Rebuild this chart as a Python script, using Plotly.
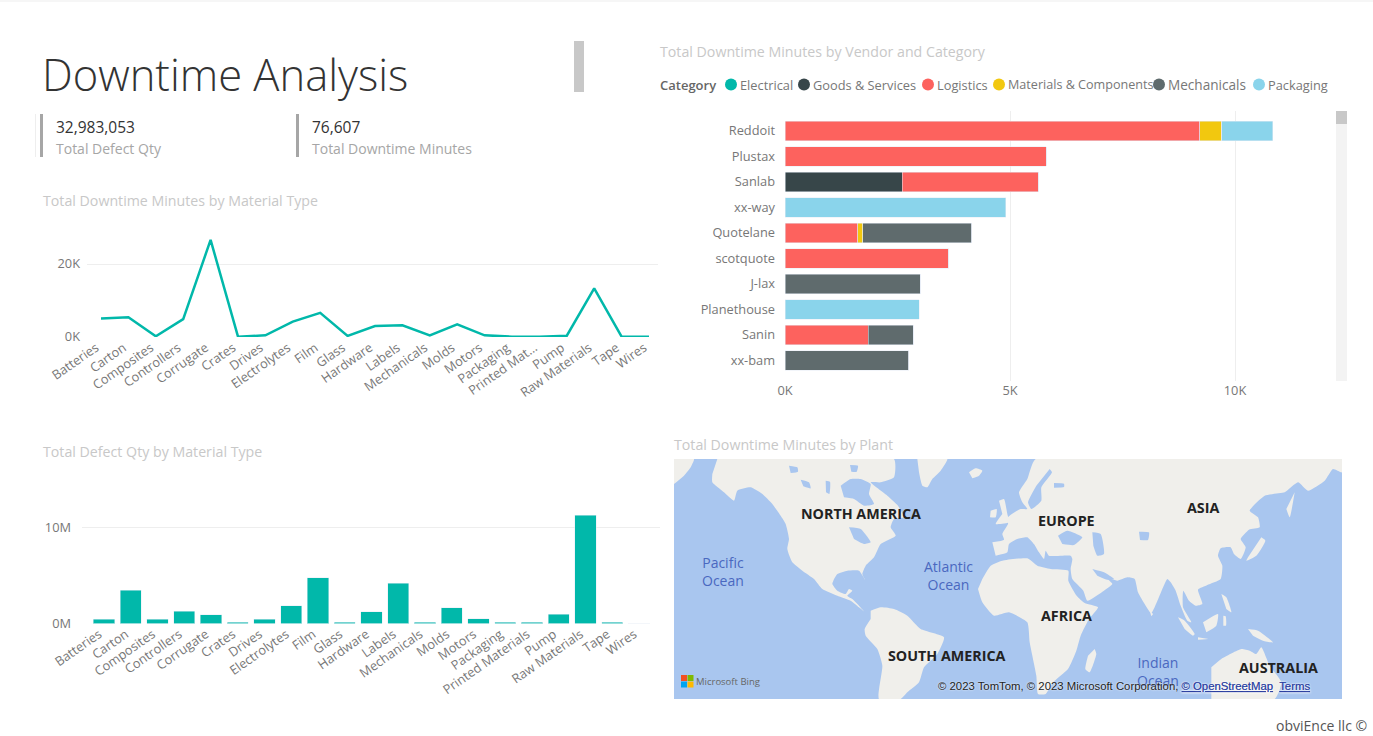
import plotly.graph_objects as go

W, H = 1373, 736
FONT = "Open Sans"

materials_line = ["Batteries","Carton","Composites","Controllers","Corrugate","Crates","Drives","Electrolytes","Film","Glass","Hardware","Labels","Mechanicals","Molds","Motors","Packaging","Printed Mat…","Pump","Raw Materials","Tape","Wires"]
materials_bar = ["Batteries","Carton","Composites","Controllers","Corrugate","Crates","Drives","Electrolytes","Film","Glass","Hardware","Labels","Mechanicals","Molds","Motors","Packaging","Printed Materials","Pump","Raw Materials","Tape","Wires"]
downtime_k = [5.1,5.4,0.2,4.9,26.6,0.1,0.45,4.2,6.6,0.3,3.0,3.2,0.45,3.5,0.45,0.1,0.1,0.35,13.3,0.1,0.1]
defect_m = [0.42,3.46,0.45,1.26,0.9,0.14,0.45,1.85,4.75,0.14,1.22,4.2,0.14,1.64,0.52,0.14,0.14,0.94,11.3,0.14,0.0]

vendors = ["Reddoit","Plustax","Sanlab","xx-way","Quotelane","scotquote","J-lax","Planethouse","Sanin","xx-bam"]
electrical = [0,0,0,0,0,0,0,0,0,0]
goods = [0,0,2.6,0,0,0,0,0,0,0]
logistics = [9.22,5.8,3.04,0,1.62,3.64,0,0,1.85,0]
mat_comp = [0.49,0,0,0,0.11,0,0,0,0,0]
mechanicals = [0,0,0,0,2.42,0,3.0,0,1.0,2.75]
packaging = [1.13,0,0,4.91,0,0,0,2.98,0,0]

# basemap outlines, in basemap picture units (2004 x 720)
chukotka = [(0,0),(60,0),(50,25),(30,50),(0,75)]
north_america = [(130,0),(660,0),(660,55),(620,70),(590,70),(640,110),(672,140),(690,175),(660,180),(650,205),(665,230),(620,255),(600,295),(575,320),(565,345),(573,362),(555,335),(520,335),(490,345),(478,365),(475,375),(490,395),(515,405),(525,390),(535,395),(520,410),(535,420),(555,440),(570,457),(555,445),(530,425),(490,410),(445,390),(420,360),(385,335),(355,310),(340,270),(345,240),(335,195),(320,170),(295,135),(265,105),(230,85),(190,95),(180,125),(150,100),(115,70),(115,45)]
greenland = [(730,0),(820,0),(800,35),(775,60),(760,85),(745,80),(735,40)]
iceland = [(885,40),(905,28),(925,35),(915,50),(895,58)]
uk = [(975,125),(990,120),(1000,165),(1005,190),(965,195),(985,165)]
ireland = [(950,155),(968,150),(965,175),(948,175)]
eurasia = [(955,250),(990,242),(985,225),(1002,195),(1002,175),(1040,150),(1060,150),(1045,130),(1035,100),(1060,60),(1085,0),(2004,0),(2004,40),(1977,30),(1952,65),(1902,95),(1872,70),(1832,100),(1772,110),(1727,155),(1752,175),(1757,205),(1725,212),(1700,240),(1715,265),(1700,300),(1680,285),(1670,265),(1640,268),(1632,290),(1645,320),(1640,360),(1600,378),(1572,392),(1585,435),(1565,440),(1545,425),(1528,395),(1527,445),(1552,490),(1540,485),(1520,440),(1505,395),(1490,370),(1480,360),(1432,462),(1415,440),(1392,400),(1382,360),(1360,355),(1330,365),(1295,355),(1315,375),(1290,395),(1240,425),(1228,395),(1195,360),(1190,330),(1195,300),(1190,290),(1125,290),(1115,275),(1110,300),(1095,280),(1075,245),(1100,280),(1060,235),(1030,240),(1005,255),(1000,280),(965,290)]
africa = [(925,360),(950,320),(985,305),(1060,298),(1090,320),(1130,330),(1183,335),(1183,365),(1208,410),(1232,432),(1272,445),(1245,480),(1220,530),(1207,575),(1182,630),(1137,670),(1115,705),(1092,705),(1087,650),(1067,550),(1060,490),(1005,460),(960,470),(925,430),(912,390)]
south_america = [(590,455),(620,445),(660,450),(700,470),(740,510),(810,535),(790,585),(750,625),(735,670),(700,700),(680,720),(615,720),(625,620),(610,570),(575,530),(572,510),(590,480)]
madagascar = [(1262,570),(1267,585),(1247,640),(1234,630),(1242,590)]
sri_lanka = [(1427,455),(1437,465),(1432,472)]
sumatra = [(1512,475),(1532,485),(1562,525),(1557,530),(1532,510)]
java = [(1572,535),(1602,540),(1572,542)]
borneo = [(1587,490),(1632,465),(1627,500),(1597,520)]
sulawesi = [(1648,470),(1655,472),(1656,500),(1648,500)]
new_guinea = [(1722,510),(1752,515),(1797,550),(1767,545),(1737,530)]
philippines = [(1642,405),(1657,415),(1672,460),(1657,450)]
australia = [(1612,625),(1642,600),(1702,570),(1727,575),(1747,585),(1762,565),(1787,620),(1822,670),(1802,720),(1612,720)]
sakhalin = [(1862,100),(1847,175),(1837,150)]
japan = [(1762,235),(1774,245),(1747,290),(1717,305),(1722,295)]
hudson_bay = [(500,80),(530,60),(560,60),(590,75),(585,105),(600,135),(570,140),(540,120),(510,115)]
great_lakes = [(525,205),(560,210),(590,250),(570,255),(540,240)]
canada_lakes_a = [(345,20),(370,25),(372,38),(350,42)]
canada_lakes_b = [(380,62),(405,70),(410,88),(388,82)]
canada_lakes_c = [(455,65),(468,68),(466,105),(456,100)]
foxe_basin = [(528,18),(552,20),(548,38),(532,38)]
baltic = [(1127,30),(1134,40),(1102,85),(1102,125),(1072,150),(1062,130),(1087,80)]
finland_gulf = [(1140,72),(1170,74),(1170,84),(1140,86)]
black_sea = [(1152,230),(1180,215),(1225,235),(1200,258),(1165,255)]
caspian = [(1255,220),(1280,225),(1290,285),(1270,290),(1258,260)]
aral = [(1395,218),(1425,220),(1422,243),(1398,243)]
persian_gulf = [(1255,330),(1290,340),(1320,360),(1300,362),(1270,350)]

land_parts = [chukotka, north_america, greenland, iceland, uk, ireland, eurasia, africa, south_america, madagascar, sri_lanka, sumatra, java, borneo, sulawesi, new_guinea, philippines, australia, sakhalin, japan]
water_parts = [hudson_bay, great_lakes, canada_lakes_a, canada_lakes_b, canada_lakes_c, foxe_basin, baltic, finland_gulf, black_sea, caspian, aral, persian_gulf]

TEAL, DARK, RED, YEL, SLATE, SKY = "#01B8AA", "#374649", "#FD625E", "#F2C80F", "#5F6B6D", "#8AD4EB"
TICK, GRID, TITLE = "#777777", "#eeeeee", "#c8c8c8"
LAND, SEA = "#F0EFEB", "#A9C6EF"

def dx(a, b): return [a / W, b / W]
def dy(top, bottom): return [1 - bottom / H, 1 - top / H]
def px(x): return x / W
def py(y): return 1 - y / H

fig = go.Figure()

fig.add_trace(go.Scatter(x=materials_line, y=downtime_k, mode="lines", line=dict(color=TEAL, width=2.5), xaxis="x", yaxis="y", cliponaxis=False, showlegend=False))
fig.add_trace(go.Bar(x=materials_bar, y=defect_m, marker=dict(color=TEAL), width=0.8, xaxis="x2", yaxis="y2", showlegend=False))
for name, vals, col in [("Electrical", electrical, TEAL), ("Goods & Services", goods, DARK), ("Logistics", logistics, RED), ("Materials & Components", mat_comp, YEL), ("Mechanicals", mechanicals, SLATE), ("Packaging", packaging, SKY)]:
    fig.add_trace(go.Bar(y=vendors, x=vals, name=name, orientation="h", marker=dict(color=col), width=0.78, xaxis="x3", yaxis="y3", showlegend=False))
for part, col in [(p, LAND) for p in land_parts] + [(p, SEA) for p in water_parts]:
    fig.add_trace(go.Scatter(x=[p[0] for p in part], y=[p[1] for p in part], fill="toself", fillcolor=col, mode="lines", line=dict(width=0, color=col, shape="spline", smoothing=0.5), hoverinfo="skip", xaxis="x4", yaxis="y4", cliponaxis=True, showlegend=False))

tickf = dict(family=FONT, size=12.8, color=TICK)
step1 = 27.4; start1 = 101
step2 = 26.75; start2 = 104
fig.update_layout(
    width=W, height=H, margin=dict(l=0, r=0, t=0, b=0, autoexpand=False), autosize=False,
    paper_bgcolor="white", plot_bgcolor="rgba(0,0,0,0)", barmode="stack", font=dict(family=FONT),
    xaxis=dict(domain=dx(87, 658), range=[(87 - start1) / step1, (658 - start1) / step1], type="category", tickangle=-35, tickfont=tickf, showgrid=False, ticks="", zeroline=False, showline=False, tickmode="array", tickvals=materials_line, ticktext=materials_line, automargin=False, anchor="y", ticklabelshift=-5),
    yaxis=dict(domain=dy(225, 337), range=[0, (337 - 225) / 73 * 20], tickvals=[0, 20], ticktext=["0K", "20K"], tickfont=tickf, gridcolor=GRID, zeroline=False, showline=False, automargin=False, anchor="x", ticklabelstandoff=6),
    xaxis2=dict(domain=dx(82, 660), range=[(82 - start2) / step2, (660 - start2) / step2], type="category", tickangle=-35, tickfont=tickf, showgrid=False, ticks="", zeroline=False, tickmode="array", tickvals=materials_bar, ticktext=materials_bar, automargin=False, anchor="y2", ticklabelshift=-5),
    yaxis2=dict(domain=dy(505.5, 623.5), range=[0, (623 - 505) / 9.6], tickvals=[0, 10], ticktext=["0M", "10M"], tickfont=tickf, gridcolor=GRID, zeroline=False, automargin=False, anchor="x2", ticklabelstandoff=10),
    xaxis3=dict(domain=dx(785, 1320), range=[0, 535 / 45], tickvals=[0, 5, 10], ticktext=["0K", "5K", "10K"], tickfont=tickf, gridcolor=GRID, zeroline=False, anchor="y3", automargin=False),
    yaxis3=dict(domain=dy(111, 381), range=[(381 - 131) / 25.5, (111 - 131) / 25.5], type="category", tickfont=tickf, showgrid=False, zeroline=False, anchor="x3", ticklabelstandoff=9, automargin=False),
    xaxis4=dict(domain=dx(674, 1342), range=[0, 2004], visible=False, anchor="y4", automargin=False),
    yaxis4=dict(domain=dy(459, 699), range=[720, 0], visible=False, anchor="x4", automargin=False),
)

shapes = []
def rect(x0, y0, x1, y1, color, layer="above"):
    shapes.append(dict(type="rect", xref="paper", yref="paper", x0=px(x0), x1=px(x1), y0=py(y0), y1=py(y1), fillcolor=color, line=dict(width=0), layer=layer))
rect(674, 459, 1342, 699, SEA, "below")
rect(0, 0, 1373, 2, "#f6f6f6")
rect(574, 41, 584, 92, "#c8c8c8")
rect(35, 114, 36, 157, "#eeeeee")
rect(40, 114, 43, 157, "#a6a6a6")
rect(296, 114, 299, 157, "#a6a6a6")
rect(1336, 111, 1347, 381, "#f3f3f3")
rect(1336, 111, 1347, 124, "#c8c8c8")
for x0, y0, c in [(681, 675, "#F25022"), (687.5, 675, "#7FBA00"), (681, 681.5, "#00A4EF"), (687.5, 681.5, "#FFB900")]:
    rect(x0, y0, x0 + 6, y0 + 6, c)
for cx, c in [(731, TEAL), (804, DARK), (928, RED), (999, YEL), (1159, SLATE), (1259, SKY)]:
    shapes.append(dict(type="circle", xref="paper", yref="paper", x0=px(cx - 6), x1=px(cx + 6), y0=py(90.5), y1=py(78.5), fillcolor=c, line=dict(width=0)))
fig.update_layout(shapes=shapes)

ann = []
def txt(x, y, s, size, color, anchor="left", family=FONT, weight=None, shadow=None):
    f = dict(family=family, size=size, color=color)
    if weight: f["weight"] = weight
    if shadow: f["shadow"] = shadow
    ann.append(dict(x=px(x), y=py(y), xref="paper", yref="paper", text=s, showarrow=False, xanchor=anchor, yanchor="middle", font=f, align="center" if anchor == "center" else "left", borderpad=0, borderwidth=0))

txt(42, 75, "Downtime Analysis", 43.5, "#333333", weight=300)
txt(56, 127, "32,983,053", 15.5, "#333333")
txt(56, 148, "Total Defect Qty", 14, "#a6a6a6")
txt(312, 127, "76,607", 15.5, "#333333")
txt(312, 148, "Total Downtime Minutes", 14, "#a6a6a6")
txt(43, 200, "Total Downtime Minutes by Material Type", 14.2, TITLE)
txt(43, 452, "Total Defect Qty by Material Type", 14.2, TITLE)
txt(660, 52, "Total Downtime Minutes by Vendor and Category", 14.2, TITLE)
txt(674, 444, "Total Downtime Minutes by Plant", 14.2, TITLE)
txt(660, 84.5, "Category", 13, "#666666", weight=600)
for x, s, size in [(740, "Electrical", 12.8), (813, "Goods &amp; Services", 12.8), (937, "Logistics", 12.8), (1008, "Materials &amp; Components", 12.6), (1168, "Mechanicals", 13.6), (1268, "Packaging", 12.8)]:
    txt(x, 84.5, s, size, TICK)
for x, y, s in [(861, 513, "NORTH AMERICA"), (1066, 520, "EUROPE"), (1203, 508, "ASIA"), (1066, 615, "AFRICA"), (947, 655, "SOUTH AMERICA"), (1278, 667, "AUSTRALIA")]:
    txt(x, y, s, 14.3, "#222222", "center", weight=700)
for x, y, s in [(723, 571, "Pacific<br>Ocean"), (948, 575, "Atlantic<br>Ocean"), (1158, 671, "Indian<br>Ocean")]:
    txt(x, y, s, 14, "#4A68C0", "center")
txt(696, 681, "Microsoft Bing", 9.5, "#666666")
link = '<span style="color:#2B3FA0"><u>{}</u></span>'
txt(938, 686, "© 2023 TomTom, © 2023 Microsoft Corporation, " + link.format("© OpenStreetMap") + "  " + link.format("Terms"), 11.35, "#222222", family="Liberation Sans", shadow="0 0 2px white")
txt(1367, 725, "obviEnce llc ©", 14, "#555555", "right")
fig.update_layout(annotations=ann)

fig.write_html("out.html", config={"displayModeBar": False}, post_script="document.body.style.margin='0';document.body.style.overflow='hidden';")
